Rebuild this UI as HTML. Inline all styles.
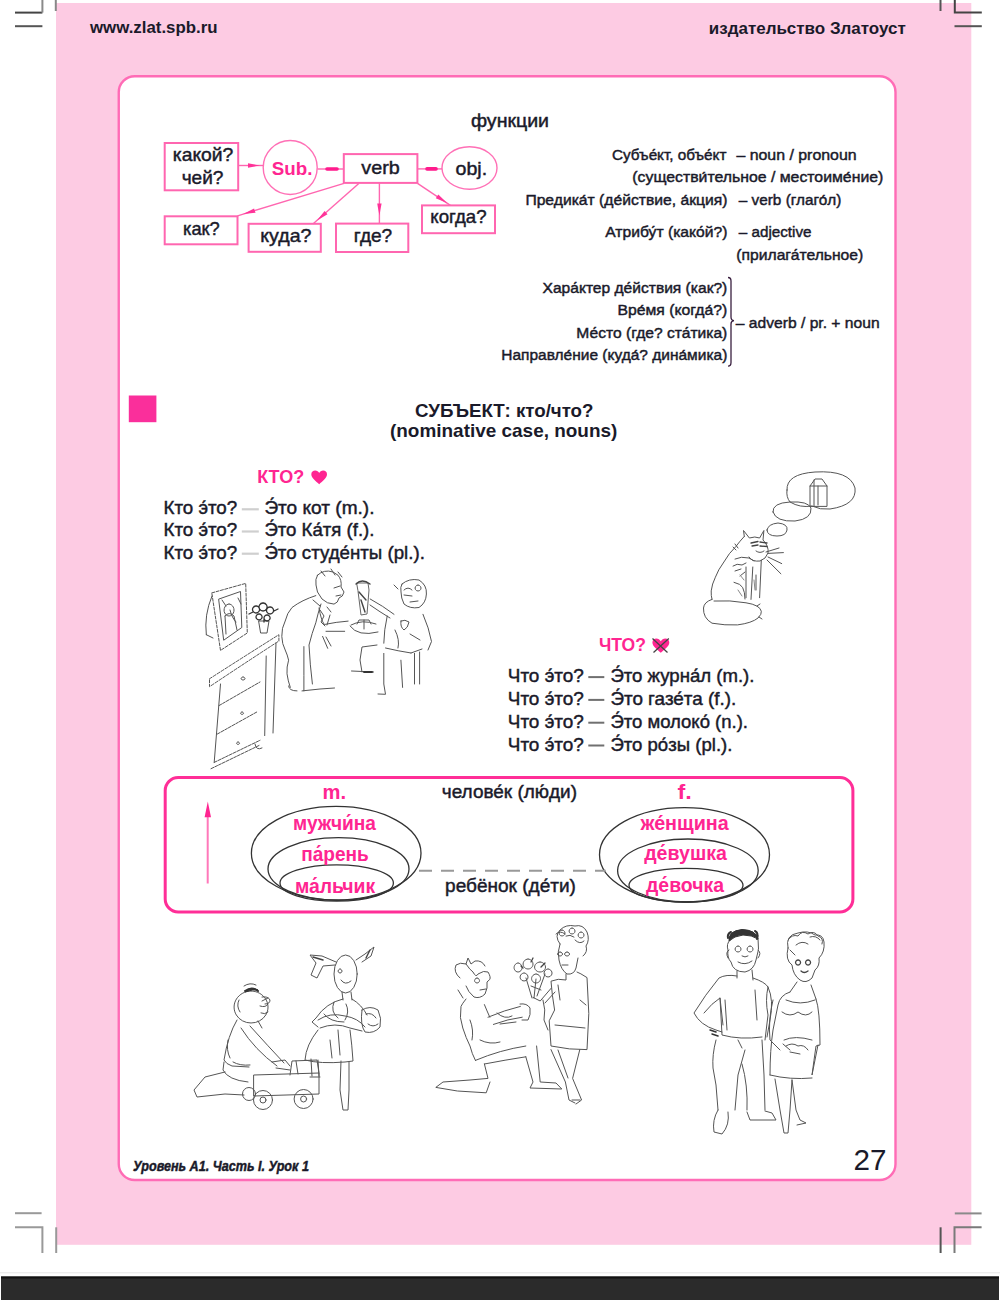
<!DOCTYPE html>
<html><head><meta charset="utf-8">
<style>
html,body{margin:0;padding:0;background:#fff;width:1000px;height:1300px;overflow:hidden}
svg{display:block}
text{font-family:"Liberation Sans",sans-serif}
.b{font-weight:bold}
.bi{font-weight:bold;font-style:italic}
.t{fill:#1a1a2a}
.m{stroke:#1a1a2a;stroke-width:0.45}
.m2{stroke:#1a1a2a;stroke-width:0.45}
.pk{fill:#ff2591}
.ill{fill:none;stroke:#555;stroke-width:1;stroke-linecap:round;stroke-linejoin:round}
</style></head>
<body>
<svg width="1000" height="1300" viewBox="0 0 1000 1300">
<!-- page -->
<rect x="56" y="3" width="915.3" height="1241.8" fill="#fdcbe3"/>
<!-- crop marks -->
<g stroke-width="2" fill="none" stroke-linecap="butt">
<path d="M15 12.6H42.4" stroke="#444"/>
<path d="M42.4 12.6V0" stroke="#8a8a8a"/>
<path d="M15 26.2H42.4" stroke="#555"/>
<path d="M55.8 0V11" stroke="#888"/>
<path d="M981.8 12.6H954.8V0" stroke="#444"/>
<path d="M954.5 26.2H981.8" stroke="#555"/>
<path d="M940.5 0V11" stroke="#555"/>
<path d="M15 1213.2H41.6" stroke="#999"/>
<path d="M15 1227.3H42.4V1253" stroke="#999"/>
<path d="M56.2 1227.3V1253" stroke="#999"/>
<path d="M981.6 1213.4H954.8" stroke="#8a8a8a"/>
<path d="M981.6 1227.3H954.5V1253" stroke="#7a7a7a"/>
<path d="M940.6 1227.3V1253" stroke="#555"/>
</g>
<!-- bottom dark bar -->
<rect x="0" y="1272.3" width="1000" height="1" fill="#e6e6e6"/>
<rect x="1" y="1276.5" width="998" height="23.5" fill="#2b2b2b"/>
<rect x="1" y="1276.5" width="998" height="2" fill="#111"/>

<!-- header -->
<text class="b t" x="90" y="33.3" font-size="17" textLength="127.5" lengthAdjust="spacingAndGlyphs">www.zlat.spb.ru</text>
<text class="b t" x="708.8" y="33.8" font-size="17" textLength="197" lengthAdjust="spacingAndGlyphs">издательство Златоуст</text>

<!-- white content box -->
<rect x="118.75" y="76.25" width="776.75" height="1103.75" rx="16" ry="16" fill="#fff" stroke="#ff6cb6" stroke-width="2.4"/>


<!-- diagram shapes -->
<g fill="none" stroke="#ff66b0" stroke-width="2">
<rect x="164.7" y="143" width="73.5" height="47.3"/>
<rect x="164.7" y="216.3" width="72.8" height="28"/>
<rect x="248.6" y="223.8" width="72.2" height="28"/>
<rect x="336" y="223.6" width="72.3" height="28.4"/>
<rect x="422" y="205.4" width="73" height="27.8"/>
<rect x="343.8" y="154.1" width="73.6" height="28.8"/>
</g>
<g fill="none" stroke="#ff70b6" stroke-width="1.4">
<circle cx="290.2" cy="167.5" r="27"/>
<ellipse cx="469.5" cy="168" rx="27.5" ry="21.2"/>
</g>
<g fill="none" stroke="#ff66b0" stroke-width="1.4">
<path d="M238.2 165.5H263"/>
<path d="M317.5 169H343.8"/>
<path d="M417.4 168.9H442"/>
<path d="M344 183.4L237.5 215.8"/>
<path d="M358.8 183.4L313.2 223.8"/>
<path d="M379.4 183L379.4 223.6"/>
<path d="M417.5 183.4L450.4 205.4"/>
</g>
<g fill="#ff3399" stroke="none">
<path d="M243.2 214.1L254.1 208.5L255.4 212.7Z"/>
<path d="M317.0 220.5L324.6 211.0L327.5 214.3Z"/>
<path d="M379.4 215.6L377.2 203.6L381.6 203.6Z"/>
<path d="M447.1 203.0L435.8 198.2L438.3 194.5Z"/>
<path d="M260.0 165.5L248.0 167.7L248.0 163.3Z"/>
</g>
<g stroke="#ff1a8c" stroke-width="3.6" stroke-linecap="round">
<path d="M327 169H337"/>
<path d="M427 168.9H436"/>
</g>
<!-- brace -->
<path d="M728 277.5Q731 277.5 731 281V317Q731 320.4 734 320.6Q731 320.8 731 324V362.5Q731 366.2 728 366.2" fill="none" stroke="#3a2040" stroke-width="1.3"/>

<text class="t m" x="471.0" y="127.0" font-size="18.5" textLength="78.0" lengthAdjust="spacingAndGlyphs">функции</text>
<text class="t m" x="172.8" y="161.0" font-size="19" textLength="60.5" lengthAdjust="spacingAndGlyphs">какой?</text>
<text class="t m" x="181.7" y="183.5" font-size="19" textLength="41.8" lengthAdjust="spacingAndGlyphs">чей?</text>
<text class="pk b" x="271.8" y="175.2" font-size="18.5" textLength="40.6" lengthAdjust="spacingAndGlyphs">Sub.</text>
<text class="t m" x="361.3" y="173.5" font-size="19" textLength="38.4" lengthAdjust="spacingAndGlyphs">verb</text>
<text class="t m" x="455.5" y="175.2" font-size="19" textLength="31.6" lengthAdjust="spacingAndGlyphs">obj.</text>
<text class="t m" x="183.0" y="234.8" font-size="19" textLength="36.7" lengthAdjust="spacingAndGlyphs">как?</text>
<text class="t m" x="260.3" y="241.6" font-size="19" textLength="51.2" lengthAdjust="spacingAndGlyphs">куда?</text>
<text class="t m" x="353.8" y="241.9" font-size="19" textLength="38.4" lengthAdjust="spacingAndGlyphs">где?</text>
<text class="t m" x="430.3" y="223.2" font-size="19" textLength="56.3" lengthAdjust="spacingAndGlyphs">когда?</text>
<text class="t m" x="612.0" y="159.8" font-size="15.4" textLength="114.4" lengthAdjust="spacingAndGlyphs">Субъе́кт, объе́кт</text>
<text class="t m" x="736.4" y="160.0" font-size="15.4" textLength="120.2" lengthAdjust="spacingAndGlyphs">– noun / pronoun</text>
<text class="t m" x="632.3" y="182.0" font-size="15.4" textLength="251.0" lengthAdjust="spacingAndGlyphs">(существи́тельное / местоиме́ние)</text>
<text class="t m" x="525.4" y="205.1" font-size="15.4" textLength="202.1" lengthAdjust="spacingAndGlyphs">Предика́т (де́йствие, а́кция)</text>
<text class="t m" x="738.8" y="205.1" font-size="15.4" textLength="102.5" lengthAdjust="spacingAndGlyphs">– verb (глаго́л)</text>
<text class="t m" x="605.2" y="236.8" font-size="15.4" textLength="122.3" lengthAdjust="spacingAndGlyphs">Атрибу́т (како́й?)</text>
<text class="t m" x="738.8" y="236.8" font-size="15.4" textLength="72.7" lengthAdjust="spacingAndGlyphs">– adjective</text>
<text class="t m" x="736.3" y="259.6" font-size="15.4" textLength="127.0" lengthAdjust="spacingAndGlyphs">(прилага́тельное)</text>
<text class="t m" x="542.5" y="292.5" font-size="15.4" textLength="184.8" lengthAdjust="spacingAndGlyphs">Хара́ктер де́йствия (как?)</text>
<text class="t m" x="617.5" y="315.0" font-size="15.4" textLength="109.8" lengthAdjust="spacingAndGlyphs">Вре́мя (когда́?)</text>
<text class="t m" x="576.3" y="337.5" font-size="15.4" textLength="151.0" lengthAdjust="spacingAndGlyphs">Ме́сто (где? ста́тика)</text>
<text class="t m" x="501.3" y="360.0" font-size="15.4" textLength="226.0" lengthAdjust="spacingAndGlyphs">Направле́ние (куда́? дина́мика)</text>
<text class="t m" x="735.7" y="327.6" font-size="15.4" textLength="144.0" lengthAdjust="spacingAndGlyphs">– adverb / pr. + noun</text>
<rect x="128.8" y="395.5" width="27.6" height="26.7" fill="#fa2f9b"/>
<text class="t b" x="415.0" y="416.8" font-size="18.5" textLength="178.5" lengthAdjust="spacingAndGlyphs">СУБЪЕКТ: кто/что?</text>
<text class="t b" x="390.0" y="437.3" font-size="18.5" textLength="227.3" lengthAdjust="spacingAndGlyphs">(nominative case, nouns)</text>
<text class="pk b" x="257.2" y="482.5" font-size="18.5" textLength="47.0" lengthAdjust="spacingAndGlyphs">КТО?</text>
<path d="M319.2 484.3C316 481 311.3 478 311.3 474.2C311.3 471.6 313.2 470.4 315.2 470.4C317 470.4 318.5 471.5 319.2 473C319.9 471.5 321.4 470.4 323.2 470.4C325.2 470.4 327 471.6 327 474.2C327 478 322.4 481 319.2 484.3Z" fill="#ff2591"/>
<text class="t m2" x="163.6" y="514.2" font-size="18.6" textLength="73.6" lengthAdjust="spacingAndGlyphs">Кто э́то?</text>
<rect x="241.8" y="508.2" width="17" height="2.2" fill="#cfcfcf"/>
<text class="t m2" x="264.4" y="514.2" font-size="18.6" textLength="110.1" lengthAdjust="spacingAndGlyphs">Э́то кот (m.).</text>
<text class="t m2" x="163.6" y="536.4" font-size="18.6" textLength="73.6" lengthAdjust="spacingAndGlyphs">Кто э́то?</text>
<rect x="241.8" y="530.4" width="17" height="2.2" fill="#cfcfcf"/>
<text class="t m2" x="264.4" y="536.4" font-size="18.6" textLength="110.1" lengthAdjust="spacingAndGlyphs">Э́то Ка́тя (f.).</text>
<text class="t m2" x="163.6" y="558.6" font-size="18.6" textLength="73.6" lengthAdjust="spacingAndGlyphs">Кто э́то?</text>
<rect x="241.8" y="552.6" width="17" height="2.2" fill="#cfcfcf"/>
<text class="t m2" x="264.4" y="558.6" font-size="18.6" textLength="160.5" lengthAdjust="spacingAndGlyphs">Э́то студе́нты (pl.).</text>
<text class="pk b" x="599.0" y="651.0" font-size="18.5" textLength="47.0" lengthAdjust="spacingAndGlyphs">ЧТО?</text>
<path d="M660.8 652.8C657.8 649.8 652.4 646.5 652.4 642.4C652.4 639.8 654.3 638.4 656.3 638.4C658.2 638.4 659.9 639.6 660.8 641.2C661.7 639.6 663.4 638.4 665.3 638.4C667.4 638.4 669.3 639.8 669.3 642.4C669.3 646.5 663.8 649.8 660.8 652.8Z" fill="#ff2591"/>
<path d="M652.5 638.5L667.5 652.5M668.8 638.5L653.5 652.5" stroke="#444" stroke-width="1.3" fill="none"/>
<text class="t m2" x="507.8" y="682.4" font-size="18.6" textLength="76.0" lengthAdjust="spacingAndGlyphs">Что э́то?</text>
<rect x="588.3" y="676.1" width="16" height="2" fill="#707070"/>
<text class="t m2" x="610.4" y="682.4" font-size="18.6" textLength="144.1" lengthAdjust="spacingAndGlyphs">Э́то журна́л (m.).</text>
<text class="t m2" x="507.8" y="705.2" font-size="18.6" textLength="76.0" lengthAdjust="spacingAndGlyphs">Что э́то?</text>
<rect x="588.3" y="698.9" width="16" height="2" fill="#707070"/>
<text class="t m2" x="610.4" y="705.2" font-size="18.6" textLength="125.9" lengthAdjust="spacingAndGlyphs">Э́то газе́та (f.).</text>
<text class="t m2" x="507.8" y="728.0" font-size="18.6" textLength="76.0" lengthAdjust="spacingAndGlyphs">Что э́то?</text>
<rect x="588.3" y="721.7" width="16" height="2" fill="#707070"/>
<text class="t m2" x="610.4" y="728.0" font-size="18.6" textLength="137.6" lengthAdjust="spacingAndGlyphs">Э́то молоко́ (n.).</text>
<text class="t m2" x="507.8" y="750.8" font-size="18.6" textLength="76.0" lengthAdjust="spacingAndGlyphs">Что э́то?</text>
<rect x="588.3" y="744.5" width="16" height="2" fill="#707070"/>
<text class="t m2" x="610.4" y="750.8" font-size="18.6" textLength="122.0" lengthAdjust="spacingAndGlyphs">Э́то ро́зы (pl.).</text>
<rect x="165.2" y="777.6" width="687.7" height="134.3" rx="13" ry="13" fill="none" stroke="#ff2e97" stroke-width="3"/>
<path d="M207.7 816V883.5" stroke="#ff78ba" stroke-width="2" fill="none"/>
<path d="M207.8 801.6L211 817.2L204.6 817.2Z" fill="#ff2591"/>
<g fill="none" stroke="#333" stroke-width="1.3">
<ellipse cx="336.2" cy="853.2" rx="84.8" ry="46.8"/>
<ellipse cx="338.5" cy="869" rx="70.5" ry="31.3"/>
<ellipse cx="336.7" cy="883" rx="56.7" ry="18.2"/>
<ellipse cx="684.5" cy="854.8" rx="85" ry="47.2"/>
<ellipse cx="687.9" cy="870.5" rx="70.3" ry="31.5"/>
<ellipse cx="686" cy="885.3" rx="57" ry="16.9"/>
</g>
<path d="M419 870.7H605.7" stroke="#999" stroke-width="2" stroke-dasharray="13 9" fill="none"/>
<text class="pk b" x="322.5" y="799.0" font-size="19.5" textLength="23.5" lengthAdjust="spacingAndGlyphs">m.</text>
<text class="pk b" x="677.4" y="799.0" font-size="19.5" textLength="14.3" lengthAdjust="spacingAndGlyphs">f.</text>
<text class="t m2" x="441.8" y="798.1" font-size="18.8" textLength="135.2" lengthAdjust="spacingAndGlyphs">челове́к (лю́ди)</text>
<text class="t m2" x="445.1" y="891.6" font-size="18.8" textLength="130.8" lengthAdjust="spacingAndGlyphs">ребёнок (де́ти)</text>
<text class="pk b" x="293.1" y="830.0" font-size="19.5" textLength="82.9" lengthAdjust="spacingAndGlyphs">мужчи́на</text>
<text class="pk b" x="301.2" y="860.5" font-size="19.5" textLength="67.6" lengthAdjust="spacingAndGlyphs">па́рень</text>
<text class="pk b" x="294.9" y="892.6" font-size="19.5" textLength="80.2" lengthAdjust="spacingAndGlyphs">ма́льчик</text>
<text class="pk b" x="640.4" y="830.4" font-size="19.5" textLength="88.4" lengthAdjust="spacingAndGlyphs">же́нщина</text>
<text class="pk b" x="644.2" y="859.8" font-size="19.5" textLength="82.7" lengthAdjust="spacingAndGlyphs">де́вушка</text>
<text class="pk b" x="646.0" y="892.1" font-size="19.5" textLength="78.0" lengthAdjust="spacingAndGlyphs">де́вочка</text>
<text class="t bi m2" x="133.0" y="1171.2" font-size="14" textLength="176.0" lengthAdjust="spacingAndGlyphs">Уровень A1. Часть I. Урок 1</text>
<text class="t" x="853.6" y="1169.6" font-size="30" textLength="33" lengthAdjust="spacingAndGlyphs">27</text>
<!-- illustrations -->
<g class="ill" stroke="#7a7a7a" stroke-width="1">
<!-- ===== living room scene ===== -->
<!-- picture frame -->
<path d="M211.8 592.9L245.7 583.4L247.3 633L220.5 650.4Z" stroke-dasharray="3 1.5"/>
<path d="M219 599L240.5 591.5L241.8 627.5L224 640Z"/>
<path d="M206.3 634.7Q204 615 212 596M206.3 634.7L213 638"/>
<path d="M229 604a5 6 0 1 0 0.1 0M225 616Q229 611 234 616L237 630M225 616L226 634"/>
<path d="M238 598L241 604"/>
<!-- vase with flowers -->
<path d="M259 621L269 621L267 633L261 633Z"/>
<path d="M256 606a3.5 3.5 0 1 0 0.1 0M263 603a4 4 0 1 0 0.1 0M270 607a3.5 3.5 0 1 0 0.1 0M259 614a3 3 0 1 0 0.1 0M267 615a3 3 0 1 0 0.1 0M253 612L249 614M274 611L278 609M264 619L264 622" stroke="#333" stroke-width="1.3"/>
<!-- dresser -->
<path d="M209.5 678.8Q245 656 278.9 634.7L278.9 641Q245 663 209.5 686.7Z" stroke-dasharray="3 1.5"/>
<path d="M220.5 684L214.2 762.4M266.2 656L264.7 735.6M276 643L273 733"/>
<path d="M219 705.6L260 682M217.4 734L256.8 712M214.2 762.4L260 740.3M211 768.7L259 745.5" stroke-dasharray="3 1.2"/>
<path d="M243 677a2 1.5 0 1 0 0.1 0M242 712a1.5 1.2 0 1 0 0.1 0M238 742a1.5 1.2 0 1 0 0.1 0"/>
<path d="M255 744Q256 751 262 748"/>
<!-- leaning man -->
<path d="M317.5 575.2Q324 569 333 572L338 575.2Q342 580 341 587L344 592Q343 597 339 598Q338 603 334 604.1Q327 604 322 599Q316 592 316 585Q315 579 317.5 575.2Z"/>
<path d="M321 571L325 576M331 569L335 575M338 572L342 577M334 588L340 586M336 596L341 595" stroke="#555"/>
<path d="M315.8 595.6Q302 600 292 607.5Q287 613 285.2 621Q281.5 628 281.8 636.4Q282 644 285.2 650Q287.5 655 288.6 660.2Q286.5 667 287 673.8Q288 681 290.3 687.4"/>
<path d="M321 604Q318 613 315.8 622.8Q312 633 309 645Q310 665 312.4 684"/>
<path d="M303.9 646.6L303.9 675.5L303.9 690.9"/>
<path d="M288.6 686Q289 691 297 690.9M302 690.9L320 689L334.5 688"/>
<path d="M319 608Q321 620 324.3 624.5Q336 622 348.1 621.1M326 631.3L344.7 631.3"/>
<path d="M322.6 636.4L327.7 648.3M326 637L331 646"/>
<path d="M320 610L324 616L321 622L325 626" stroke="#555"/>
<!-- plate / cake -->
<path d="M350 626Q358 637 378 632M351 625Q362 619 376 624M357 624L359 620L369 620L371 624M364 620L364 629" />
<!-- seated man -->
<path d="M402 584Q409 578 419 580Q427 585 426.4 594Q426 603 419 607.5Q410 609 404 604Q401 598 401 592Q400 587 402 584Z"/>
<path d="M398 589L394 585M404 595L412 596M410 602L418 601M418 585a3 3 0 1 0 0.1 0"/>
<path d="M357 583L368 583L369 590L367 614L361 615L358 591Z" stroke="#666"/>
<path d="M356 584Q362 578 370 584M359 592L366 600M361 600L365 612" stroke="#444" stroke-width="1.4"/>
<path d="M370.2 599Q383 606 394 614.3M370 605Q380 612 390 618"/>
<path d="M387.2 616Q384 630 383.8 643.2M423 614.3Q429 628 431.5 641.5L428 650"/>
<path d="M401 621Q405 619 409 622Q408 628 404 630Q400 627 401 621Z"/>
<path d="M385.5 648Q398 651 411 653M383.8 653.4L383.8 684L385.5 694.3L378 694M400.9 660.2L402.6 687.4"/>
<path d="M414.5 653.4L414.5 684M419.6 652L419.6 684M411 653L422 649"/>
<path d="M377 645L362 647L360 660L362 672M351.5 671L373.6 672" />
<path d="M364 672L372 672" stroke="#333" stroke-width="2"/>
</g>
<g class="ill" stroke="#8a8a8a" stroke-width="1">
<!-- ===== cat with thought bubbles ===== -->
<path d="M787 490Q786 474 815 472Q850 470 855 488Q857 505 830 509Q820 510 812 506Q800 508 790 502Q786 497 787 490Z"/>
<path d="M773 512Q772 503 790 502Q808 501 811 508Q812 519 795 521Q776 522 773 512Z"/>
<path d="M767 530Q768 524 778 523Q788 524 787 530Q786 536 777 536Q767 536 767 530Z"/>
<!-- milk carton -->
<path d="M810 506L810 486L815 479L822 479L827 486L827 506Z" stroke="#555"/>
<path d="M814 480L814 506M818 486L818 505M810 486L827 486" stroke="#555"/>
<!-- cat -->
<path d="M744.3 536.4L743.5 530.5L749.4 538Q755 536 759.6 538L763.9 530.5L763 540Q769 546 768 553Q766 559 760 561Q752 562 749 557"/>
<path d="M751 543L758 541.5M752 546L758 545M760 542L767 543M760 546L767 546.5" stroke="#444" stroke-width="1.3"/>
<path d="M756 551Q760 554 764 551"/>
<path d="M744.3 536.4Q740 541 735.8 546.6Q729 553 723.9 562Q718 570 715.4 577.2Q712 584 711.2 590.9Q711 596 712 599.4"/>
<path d="M735 544L738 548M733 547L736 550"/>
<path d="M768 553.4L783.4 552.6M768 557L781.7 563.6M767 560L780.9 573.8M766 552L779 548"/>
<path d="M735 559Q741 556 749 558L754 561M733 566Q737 563 742 565L746 563M735 571L741 569M740 576L745 572"/>
<path d="M746 567L746 597.7M752.8 567L751 599.4M761.3 560.2L759.6 597.7M756 575L756 590"/>
<path d="M734 582.3Q741 584 742.6 587.4Q745 592 745 599"/>
<path d="M712 599.4Q704 602 703.5 608Q703 618 712 623.2Q725 625.5 737.5 624.9Q752 623 758 618Q762 614 761.3 611.3Q760 605 746 602.8Q730 600 714 601"/>
<path d="M757 606L760 604M759 617L762 619"/>
</g>
<g class="ill" stroke="#666" stroke-width="1">
<!-- ===== boy with toy car & girl ===== -->
<path d="M251 991a17 16 0 1 0 0.1 0"/>
<path d="M245 991Q252 986 258 991" stroke="#333" stroke-width="2"/>
<path d="M262 1001L268 998M260 1006Q266 1008 268 1004M261 1013Q265 1015 268 1012"/>
<path d="M237 1020Q228 1035 224 1060Q226 1064 232 1066L249 1067"/>
<path d="M241 1028Q255 1050 277 1066M250 1026Q268 1046 284 1063M258 1021L262 1028"/>
<path d="M224 1062L223 1070Q228 1080 248 1082M225 1072L205 1077L194 1090L197 1097L225 1094L244 1095"/>
<path d="M254 1075L319 1073L319 1094L254 1096Z"/>
<path d="M290 1075L292 1061L317 1060L319 1073M296 1061L298 1074"/>
<circle cx="263" cy="1100" r="9.5"/><circle cx="263" cy="1100" r="3"/>
<circle cx="303.6" cy="1099" r="9.5"/><circle cx="303.6" cy="1099" r="3"/>
<circle cx="249" cy="1094" r="6.5"/>
<!-- girl -->
<ellipse cx="345.6" cy="974" rx="11.6" ry="19"/>
<path d="M336 962L322 956L310 955L316 963L311 975L317 978L323 966L335 965"/>
<path d="M356 960L365 954L374 947L371 956L362 962"/>
<path d="M340 969a2 2 0 1 0 0.1 0M341 980Q345 986 351 981"/>
<path d="M342 992L343 1000M351 992L352 1000"/>
<path d="M343 999Q326 1003 316 1018L312 1022L318 1027M352 999Q362 1005 367 1015"/>
<path d="M318 1020Q330 1012 345 1016Q358 1018 365 1027M320 1028Q335 1022 350 1028L362 1031"/>
<path d="M362 1010Q370 1005 378 1010Q382 1018 380 1027Q374 1034 365 1032Q360 1025 362 1010Z"/>
<path d="M318 1030Q306 1045 305 1060Q320 1064 345 1062L353 1061Q352 1045 350 1030"/>
<path d="M341 1061L340 1090L343 1110L348 1110L349 1090L349 1062"/>
<path d="M311 1059L312 1076M318 1060L319 1076M310 1077L320 1077"/>
</g>
<g class="ill" stroke="#666" stroke-width="1">
<!-- ===== proposal ===== -->
<path d="M460 978Q453 972 456 965Q460 962 466 964L468 958L471 964L475 961Q482 960 485 966"/>
<path d="M466 964Q470 970 473 972Q476 978 478 974Q484 970 488 972Q491 977 489.8 979.4L487 982Q488 988 485 994Q480 999 474 997Q468 992 466 986"/>
<path d="M477 978a2.5 2.5 0 1 0 0.1 0M480 990L486 989M458 990L463 998" stroke="#555"/>
<path d="M466 999Q462 1004 461 1006.4Q459 1018 462.8 1028Q466 1038 470 1046Q472 1054 475.4 1060.4"/>
<path d="M484.4 1004.6Q487 1011 489.8 1017.2M488 1017.2Q505 1010 520.4 1006.4M493.4 1024.4Q508 1019 522.2 1017.2"/>
<path d="M520 1004Q527 1003 530 1008Q531 1015 528 1020L522 1020"/>
<path d="M475.4 1060.4Q500 1050 525.8 1046M484.4 1064Q505 1060 525.8 1056.8"/>
<path d="M484.4 1064L488 1078.4L470 1080L443 1082L435.8 1087.4L457.4 1091L486.2 1092.8L490 1082"/>
<path d="M525.8 1056.8L533 1082L530 1088L561.8 1089L556 1083L540.2 1082L536.6 1046"/>
<!-- bouquet -->
<path d="M518 963a4 4.5 0 1 0 0.1 0M528 959a5 5 0 1 0 0.1 0M540 962a5.5 5 0 1 0 0.1 0M524 973a4 4 0 1 0 0.1 0M536 974a4.5 4.5 0 1 0 0.1 0M548 969a4 4 0 1 0 0.1 0" stroke="#555"/>
<path d="M523 968L521 966M533 958L531 962M541 967L545 963" stroke="#444" stroke-width="1.3"/>
<path d="M526 978L532 998M536 979L534 998M545 974L537 996M531 986L541 990"/>
<!-- woman -->
<path d="M560 944Q554 936 560 930Q566 924 575 926Q583 924 587 932Q590 940 586 946Q588 952 583 956"/>
<path d="M562 930a3 3 0 1 0 0.1 0M572 928a3 3 0 1 0 0.1 0M581 932a3 3 0 1 0 0.1 0M566 936Q570 934 574 937"/>
<path d="M560 944Q557 952 559 960Q561 970 567 974Q574 975 576 968L578 958"/>
<path d="M560 952a2.5 2 0 1 0 0.1 0M567 952a2.5 2 0 1 0 0.1 0M562 965L568 965" stroke="#555"/>
<path d="M566 974L566 980Q558 978 551 981.2Q552 995 554.6 1010L549.2 1020.8L551 1046Q570 1050 587 1049.6L588.8 1013.6L587 977.6Q580 973 577 972"/>
<path d="M551 988.4L540.2 1001L533 997.4M555 992L545 1003"/>
<path d="M551 1049.6L565.4 1082L569 1100L575 1103M579.8 1049.6L572.6 1078.4L581.6 1100L576 1104"/>
<path d="M558 1050L568 1078M572 1100L580 1100" />
<path d="M580 1000L586 1005M555 1025L585 1028"/>
</g>
<g class="ill" stroke="#666" stroke-width="1.1">
<!-- ===== couple ===== -->
<path d="M730 940Q728 931 742 930Q755 930 758 938Q760 950 756 960Q754 970 745 972Q733 972 731 962Q727 958 728 950Q726 944 730 940Z"/>
<path d="M730 938Q740 928 757 936" stroke="#222" stroke-width="2.5"/>
<path d="M738 946a3 3 0 1 0 0.1 0M750 946a3 3 0 1 0 0.1 0M742 956Q745 958 748 956M738 962Q745 966 752 961"/>
<path d="M737 971L737 978M752 970L753 980"/>
<path d="M737 976Q726 974 719 978Q705 995 694 1013Q700 1025 716 1030L722 1032"/>
<path d="M704 1013Q712 1003 720 998L723 1025"/>
<path d="M753 978Q765 982 768 987Q774 1000 770 1020L767 1037"/>
<path d="M720 998L722 1035Q740 1040 762 1037"/>
<path d="M716 1040Q712 1055 713 1068L716 1085L718 1110M745 1050L738 1075L735 1110M742 1064Q748 1085 747 1110M762 1040L764 1075L765 1110"/>
<path d="M718 1110Q712 1120 714 1132L722 1134Q730 1125 728 1112M747 1112L750 1120L776 1120L772 1113L765 1111"/>
<path d="M710 1030L716 1032M712 1034L718 1036" stroke="#333" stroke-width="1.5"/>
<!-- woman -->
<path d="M788 948Q785 935 798 933Q808 930 815 935Q823 934 824 942Q825 952 819 958Q820 966 815 970L812 978Q806 984 800 980Q793 975 792 965Q785 960 788 948Z"/>
<path d="M796 945Q802 940 808 944M810 937Q816 935 820 940M790 950L795 955" stroke="#555"/>
<path d="M798 960a2.5 2.5 0 1 0 0.1 0M808 960a2.5 2.5 0 1 0 0.1 0M801 971Q804 974 808 971" stroke="#444" stroke-width="1.3"/>
<path d="M797 982L790 992M811 985L816 999"/>
<path d="M790 992Q780 995 778 1005L773 1030Q770 1050 770 1075M816 999Q820 1010 820 1045L816 1046Q814 1060 812 1075L818 1045"/>
<path d="M786 1000Q800 1006 815 1000M782 1012Q790 1018 798 1012Q806 1018 812 1012"/>
<path d="M784 1040Q795 1035 812 1040M783 1044L790 1050"/>
<path d="M770 1075Q790 1080 812 1078"/>
<path d="M775 1079L780 1110L784 1133L788 1133L790 1110L792 1080M792 1080L796 1110L800 1120L806 1123L797 1125"/>
<path d="M768 987Q765 1000 768 1015L765 1040"/>
</g>
<g class="ill" stroke="#6a6a6a" stroke-width="1">
<!-- extra details -->
<!-- boy face details -->
<path d="M262 997Q268 996 270 1000Q270 1004 265 1004M256 985Q250 982 244 986M239 1000Q236 1006 240 1012"/>
<path d="M228 1040Q226 1050 230 1058M233 1062Q240 1066 250 1065"/>
<path d="M272 1062L285 1060L290 1066M276 1068L290 1070"/>
<!-- girl details -->
<path d="M334 1002Q330 1012 338 1018M346 1004Q350 1012 345 1020M324 1014Q330 1022 344 1022"/>
<path d="M366 1014Q372 1012 376 1018M368 1024Q373 1028 378 1024" stroke="#555"/>
<path d="M338 1030L340 1055M330 1040L332 1058"/>
<path d="M313 957L323 960M370 950L366 958" stroke="#444" stroke-width="1.4"/>
<!-- proposal extra -->
<path d="M497 1013Q505 1020 512 1016M500 1024L516 1022M470 1020Q474 1030 472 1040M480 1040Q490 1045 500 1042"/>
<path d="M543 1000Q546 1010 544 1020L548 1030M558 985L560 1000"/>
<path d="M575 940Q580 945 584 941M556 934Q560 930 565 934" stroke="#555"/>
<!-- couple extra -->
<path d="M728 938Q727 934 731 932M757 939Q759 933 755 931" stroke="#333" stroke-width="2"/>
<path d="M729 950Q725 952 728 958M758 950Q762 953 758 958"/>
<path d="M725 1000L727 1030M755 990L757 1020M738 1040L742 1048"/>
<path d="M788 940Q792 934 798 936Q802 930 808 934Q814 930 818 936Q824 938 822 944" stroke="#555"/>
<path d="M786 1046Q792 1042 798 1046Q804 1044 808 1050M790 1052L800 1054" stroke="#555"/>
<path d="M773 1000Q768 1020 770 1040L780 1050"/>
<!-- living room extra -->
<path d="M313 600L320 606M327 607L331 612M330 615L327 625" />
<path d="M404 590Q408 586 412 590M395 630Q400 640 398 648M410 634L420 640"/>
<path d="M230 610Q232 618 236 622M222 600L226 606" />
<!-- cat extra -->
<path d="M740 575L744 580M738 590L742 596M754 580L755 590" stroke="#888"/>
</g>
<path d="M729 941Q728 931 742 929.5Q756 930 758 939Q752 935 743 935Q734 936 729 941Z" fill="#333" stroke="#333" stroke-width="1"/>
<path d="M245 992Q250 986 258 990Q253 989 245 992Z" fill="#333" stroke="#333" stroke-width="1"/>

</svg>
</body></html>
